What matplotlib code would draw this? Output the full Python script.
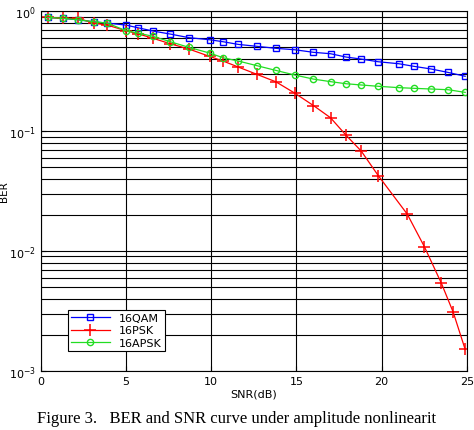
import matplotlib.pyplot as plt

# SNR values (dB) and BER
snr = [0.4, 1.3, 2.2, 3.1, 3.9, 5.0, 5.7, 6.6, 7.6, 8.7, 9.9, 10.7, 11.6, 12.7,
       13.8, 14.9, 16.0, 17.0, 17.9, 18.8, 19.8, 21.0, 21.9, 22.9, 23.9, 24.9]
ber_qam = [0.886, 0.87, 0.846, 0.814, 0.794, 0.764, 0.726, 0.681, 0.643, 0.6, 0.577,
           0.555, 0.527, 0.508, 0.489, 0.476, 0.453, 0.441, 0.414, 0.398, 0.378,
           0.364, 0.346, 0.329, 0.308, 0.286]
ber_apsk = [0.886, 0.87, 0.846, 0.814, 0.794, 0.686, 0.656, 0.615, 0.555, 0.498, 0.447,
            0.408, 0.383, 0.35, 0.32, 0.293, 0.271, 0.258, 0.248, 0.242, 0.236,
            0.23, 0.227, 0.224, 0.221, 0.21]
snr_psk = [0.4, 1.3, 2.2, 3.1, 3.9, 5.0, 5.7, 6.6, 7.6, 8.7, 9.9, 10.7, 11.6, 12.7,
           13.8, 14.9, 16.0, 17.0, 17.9, 18.8, 19.8, 21.5, 22.5, 23.5, 24.2, 24.9]
ber_psk = [0.886, 0.87, 0.87, 0.794, 0.764, 0.686, 0.647, 0.592, 0.534, 0.482, 0.419,
           0.383, 0.341, 0.296, 0.257, 0.207, 0.163, 0.129, 0.0926, 0.0681, 0.0425,
           0.0203, 0.0109, 0.0054, 0.00308, 0.00151]

fig = plt.figure(figsize=(4.74, 4.31), dpi=100)
ax = fig.add_axes([0.086, 0.137, 0.899, 0.835])

ax.semilogy(snr, ber_qam, color="blue", marker="s", ms=4.5, mfc="none", lw=0.9, label="16QAM")
ax.semilogy(snr_psk, ber_psk, color="red", marker="+", ms=8, mew=1.1, lw=0.9, label="16PSK")
ax.semilogy(snr, ber_apsk, color="#22dd22", marker="o", ms=4.5, mfc="none", lw=0.9, label="16APSK")

ax.set_xlim(0, 25)
ax.set_ylim(1e-3, 1)
ax.grid(True, which="both", color="black", lw=0.8)
ax.tick_params(which="both", direction="in", labelsize=8)
ax.set_xlabel("SNR(dB)", fontsize=8, labelpad=2)
ax.set_ylabel("BER", fontsize=7.5, labelpad=0)
leg = ax.legend(loc="lower left", bbox_to_anchor=(0.05, 0.04), fontsize=8,
                fancybox=False, edgecolor="black", framealpha=1,
                handlelength=3.5, borderpad=0.3, labelspacing=0.2)
leg.get_frame().set_linewidth(0.8)

fig.text(0.5, 0.01, "Figure 3.   BER and SNR curve under amplitude nonlinearit",
         ha="center", va="bottom", fontsize=12, family="Liberation Serif")

fig.savefig("out.png", dpi=100)
